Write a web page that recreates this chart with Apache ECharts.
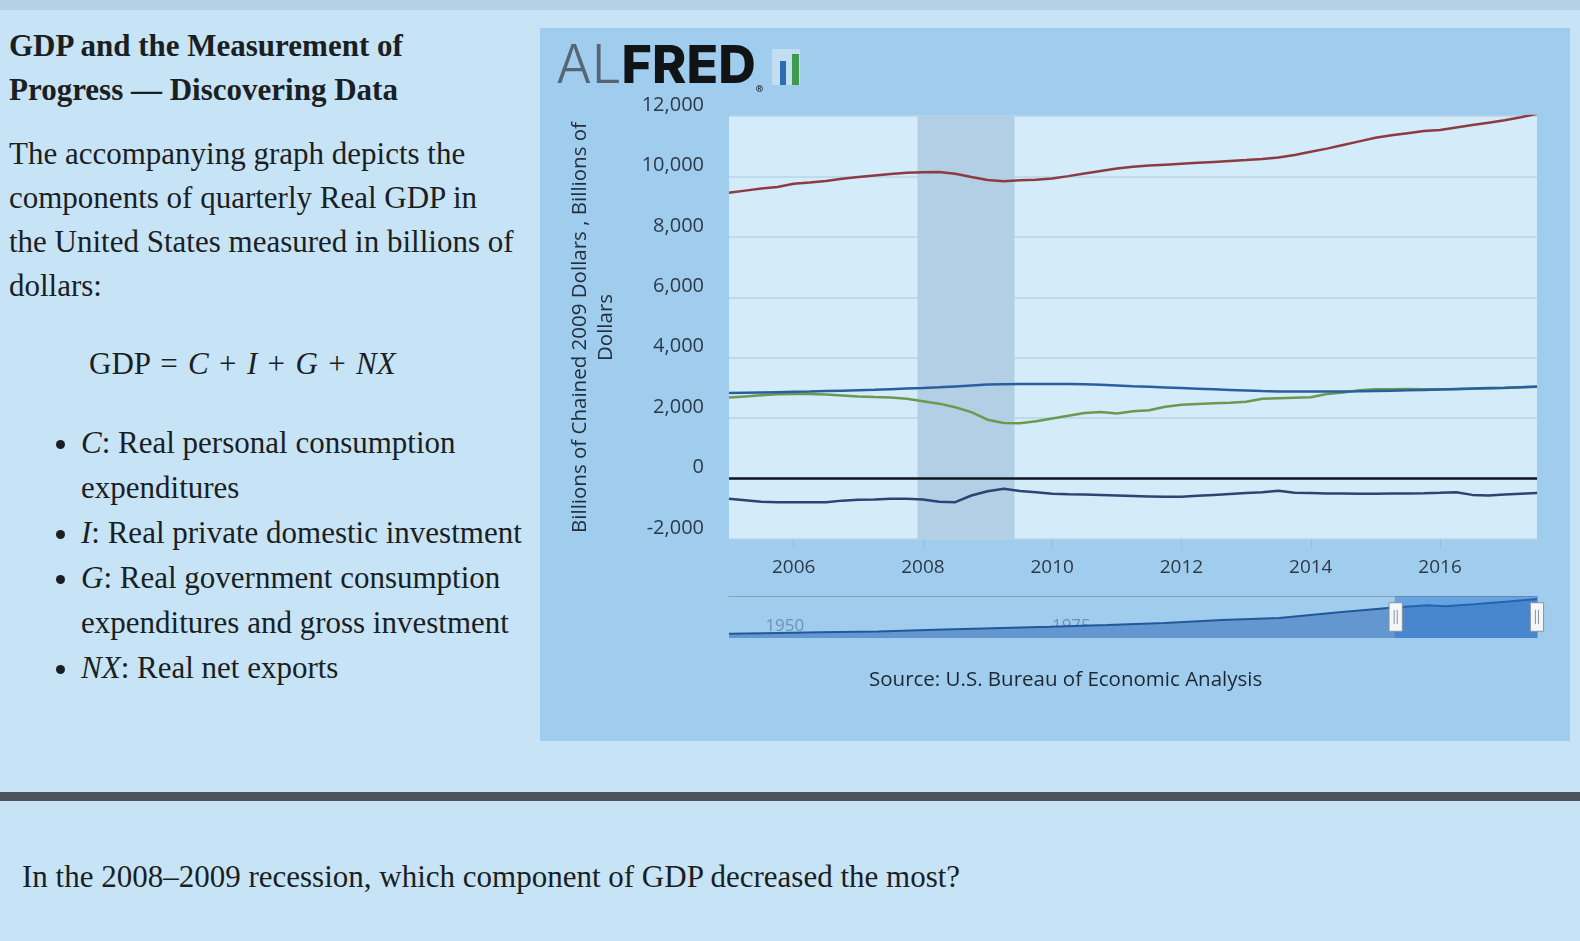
<!DOCTYPE html>
<html>
<head>
<meta charset="utf-8">
<title>GDP components</title>
<script src="https://cdn.jsdelivr.net/npm/echarts@6/dist/echarts.min.js"></script>
<style>
    body{margin:0;width:1580px;height:941px;background:#c7e4f7;position:relative;overflow:hidden;
        font-family:"Liberation Serif","Times New Roman",serif;color:#1b1e22}
    .topbar{position:absolute;left:0;top:0;width:1580px;height:10px;background:#b5d1e6}
    .txt{position:absolute;font-size:31px;line-height:44px;white-space:nowrap}
    .bold{font-weight:bold}
    ul{position:absolute;left:0;top:420px;margin:0;padding:0 0 0 81px;font-size:31px;line-height:45px}
    ul li{white-space:nowrap}
    .rule{position:absolute;left:0;top:792px;width:1580px;height:9px;background:#4b535b}
    #chart{position:absolute;left:540px;top:28px;width:1030px;height:713px}
</style>
</head>
<body>
<div class="topbar"></div>
<div class="txt bold" style="left:9px;top:24px">GDP and the Measurement of<br>Progress — Discovering Data</div>
<div class="txt" style="left:9px;top:132px">The accompanying graph depicts the<br>components of quarterly Real GDP in<br>the United States measured in billions of<br>dollars:</div>
<div class="txt" style="left:89px;top:342px;word-spacing:2.6px">GDP = <i>C</i> + <i>I</i> + <i>G</i> + <i>NX</i></div>
<ul>
    <li><i>C</i>: Real personal consumption<br>expenditures</li>
    <li><i>I</i>: Real private domestic investment</li>
    <li><i>G</i>: Real government consumption<br>expenditures and gross investment</li>
    <li><i>NX</i>: Real net exports</li>
</ul>
<div class="rule"></div>
<div class="txt" style="left:22px;top:855px">In the 2008–2009 recession, which component of GDP decreased the most?</div>

<div id="chart"></div>

<script>
// quarterly values, 2005 Q1 .. 2017 Q3, billions of chained 2009 dollars
var startYear = 2005;
var consumption = [
    9460, 9530, 9600, 9650,   9760, 9800, 9850, 9920,   9980, 10030, 10080, 10120,
    10140, 10150, 10090, 9980,   9880, 9840, 9870, 9890,   9930, 10010, 10100, 10180,
    10260, 10320, 10360, 10390,   10420, 10450, 10480, 10510,   10540, 10580, 10630, 10710,
    10820, 10920, 11040, 11160,   11280, 11360, 11430, 11500,   11540, 11620, 11700, 11780,
    11860, 11960, 12070
];
var investment = [
    2680, 2720, 2760, 2790,   2800, 2795, 2780, 2750,   2720, 2700, 2685, 2640,
    2560, 2480, 2360, 2200,   1950, 1840, 1830, 1900,   1990, 2080, 2170, 2200,
    2150, 2230, 2260, 2380,   2440, 2470, 2490, 2510,   2540, 2640, 2660, 2675,
    2690, 2800, 2850, 2920,   2960, 2960, 2965, 2960,   2955, 2960, 2970, 2985,
    3000, 3025, 3050
];
var government = [
    2830, 2840, 2850, 2860,   2870, 2880, 2895, 2910,   2925, 2940, 2960, 2980,
    2995, 3020, 3050, 3080,   3110, 3125, 3130, 3130,   3130, 3130, 3120, 3105,
    3080, 3055, 3035, 3015,   2995, 2975, 2955, 2935,   2915, 2895, 2885, 2880,
    2878, 2880, 2885, 2890,   2900, 2910, 2920, 2935,   2950, 2965, 2980, 2995,
    3005, 3020, 3035
];
var netExports = [
    -670, -720, -770, -780,   -780, -785, -780, -730,   -700, -690, -670, -665,
    -690, -770, -780, -560,   -420, -340, -410, -450,   -500, -520, -530, -545,
    -560, -575, -590, -605,   -600, -570, -540, -510,   -480, -450, -400, -470,
    -480, -490, -495, -500,   -500, -495, -490, -485,   -470, -450, -540, -560,
    -530, -500, -480
];
var recession = ['2007-12-01', '2009-06-01'];
var yearTicks = [2006, 2008, 2010, 2012, 2014, 2016];

// navigator (whole history, consumption)
var navYears  = [1947, 1950, 1955, 1960, 1965, 1970, 1975, 1980, 1985, 1990, 1995, 2000, 2005, 2008, 2009.5, 2012, 2015, 2017.5];
var navValues = [1300, 1480, 1780, 2050, 2550, 3000, 3450, 4000, 4650, 5550, 6200, 7900, 9460, 10140, 9860, 10420, 11280, 12070];
var navTicks  = [1950, 1975, 2000];

function toYear(s){
    var p = s.split('-');
    return +p[0] + (p[1] - 1) / 12;
}
function quarterly(arr){
    var res = [];
    for (var i = 0; i < arr.length; i++) {
        res.push([startYear + i / 4, arr[i]]);
    }
    return res;
}
var navData = navYears.map(function(y, i){ return [y, navValues[i]]; });
var endYear = startYear + (consumption.length - 1) / 4;

var font = '"Open Sans", "Noto Sans", sans-serif';
var labelColor = '#2c3a48';

var chart = echarts.init(document.getElementById('chart'));
var option = {
    backgroundColor: '#a0ccee',
    animation: false,
    title: [
        {
            text: '{a|AL}{b|FRED}{r|®}',
            left: 16, top: 13, padding: 0,
            textStyle: {
                rich: {
                    a: {fontFamily: 'Inter, sans-serif', fontWeight: 300, fontSize: 53, lineHeight: 53, color: '#566574'},
                    b: {fontFamily: 'Inter, sans-serif', fontWeight: 800, fontSize: 52, lineHeight: 53, color: '#111417'},
                    r: {fontFamily: font, fontSize: 9, color: '#111417', verticalAlign: 'bottom'}
                }
            }
        },
        {
            text: 'Source: U.S. Bureau of Economic Analysis',
            left: 329, top: 642, padding: 0,
            textStyle: {fontFamily: font, fontWeight: 'normal', fontSize: 20.5, color: '#1c2733'}
        }
    ],
    graphic: [
        {type: 'rect', left: 232, top: 21, shape: {width: 28, height: 36}, style: {fill: 'rgba(220,237,249,0.55)'}},
        {type: 'rect', left: 240, top: 33, shape: {width: 6, height: 24}, style: {fill: '#2a6db0'}},
        {type: 'rect', left: 252, top: 26, shape: {width: 7, height: 31}, style: {fill: '#3f9a4c'}}
    ],
    grid: [
        {left: 189, right: 33, top: 88, height: 423, show: true, backgroundColor: '#d4ebfa', borderWidth: 0},
        {left: 189, right: 33, top: 568, height: 42, show: false}
    ],
    xAxis: [
        {
            type: 'value', gridIndex: 0, min: startYear, max: endYear,
            axisLine: {show: true, onZero: false, lineStyle: {color: '#b6d1e6', width: 1}},
            axisTick: {show: true, length: 10, customValues: yearTicks, lineStyle: {color: '#9dbcd6'}},
            axisLabel: {customValues: yearTicks, formatter: function(v){ return String(v); },
                fontFamily: font, fontSize: 19, color: labelColor, margin: 19},
            splitLine: {show: false}
        },
        {
            type: 'value', gridIndex: 1, min: navYears[0], max: endYear,
            axisLine: {show: false}, axisTick: {show: false}, splitLine: {show: false},
            axisLabel: {customValues: navTicks, formatter: function(v){ return String(v); }, inside: true,
                align: 'left', margin: 3, padding: [0, 0, 0, 2], fontFamily: font, fontSize: 17, color: '#6d92b8'}
        },
        {
            // only draws the navigator top border and drives the slider
            type: 'value', gridIndex: 1, position: 'top', min: navYears[0], max: endYear,
            axisLine: {show: true, lineStyle: {color: '#8f9eab', width: 1}},
            axisTick: {show: false}, axisLabel: {show: false}, splitLine: {show: false}
        }
    ],
    yAxis: [
        {
            type: 'value', gridIndex: 0, min: -2000, max: 12000, interval: 2000,
            name: 'Billions of Chained 2009 Dollars , Billions of\nDollars',
            nameLocation: 'middle', nameGap: 110, nameRotate: 90,
            nameTextStyle: {fontFamily: font, fontSize: 20.5, lineHeight: 26, color: '#22303e'},
            axisLine: {show: false}, axisTick: {show: false},
            axisLabel: {fontFamily: font, fontSize: 20, color: labelColor, margin: 25,
                verticalAlign: 'bottom', lineHeight: 22},
            splitLine: {lineStyle: {color: '#bad4e8', width: 1.5}}
        },
        {type: 'value', gridIndex: 1, min: 0, max: 13000, show: false}
    ],
    dataZoom: [{
        type: 'slider', xAxisIndex: 2, filterMode: 'none',
        startValue: startYear, endValue: endYear,
        left: 189, right: 33, top: 568, height: 42,
        showDetail: false, showDataShadow: false, brushSelect: false, moveHandleSize: 0,
        backgroundColor: 'rgba(0,0,0,0)', borderColor: 'rgba(0,0,0,0)',
        fillerColor: 'rgba(38,112,205,0.45)',
        handleIcon: 'path://M0,0H13V28H0Z M5,7V21 M8,7V21',
        handleSize: '68%',
        handleStyle: {color: '#f4f7fa', borderColor: '#8693a0', borderWidth: 1},
        emphasis: {handleStyle: {color: '#f4f7fa', borderColor: '#8693a0'}}
    }],
    series: [
        {
            name: 'C', type: 'line', data: quarterly(consumption), showSymbol: false, z: 5,
            lineStyle: {color: '#8c3b41', width: 2.5}, itemStyle: {color: '#8c3b41'},
            markArea: {
                silent: true, z: 1,
                itemStyle: {color: '#b3cfe5'},
                data: [[{xAxis: toYear(recession[0])}, {xAxis: toYear(recession[1])}]]
            }
        },
        {
            name: 'I', type: 'line', data: quarterly(investment), showSymbol: false, z: 5,
            lineStyle: {color: '#6a9a50', width: 2.5}, itemStyle: {color: '#6a9a50'}
        },
        {
            name: 'G', type: 'line', data: quarterly(government), showSymbol: false, z: 5,
            lineStyle: {color: '#2a5f9f', width: 2.5}, itemStyle: {color: '#2a5f9f'}
        },
        {
            name: 'NX', type: 'line', data: quarterly(netExports), showSymbol: false, z: 5,
            lineStyle: {color: '#2e4373', width: 2.5}, itemStyle: {color: '#2e4373'},
            markLine: {
                silent: true, symbol: 'none', label: {show: false},
                lineStyle: {color: '#0e1721', width: 2.5, type: 'solid'},
                data: [{yAxis: 0}]
            }
        },
        {
            name: 'nav', type: 'line', xAxisIndex: 1, yAxisIndex: 1, data: navData, showSymbol: false,
            lineStyle: {color: '#22589b', width: 2}, areaStyle: {color: '#6497cf', opacity: 1}, silent: true
        },
        {
            name: 'navAxis', type: 'line', xAxisIndex: 2, yAxisIndex: 1, data: navData, showSymbol: false,
            lineStyle: {opacity: 0}, silent: true
        }
    ]
};
chart.setOption(option);
</script>
</body>
</html>
